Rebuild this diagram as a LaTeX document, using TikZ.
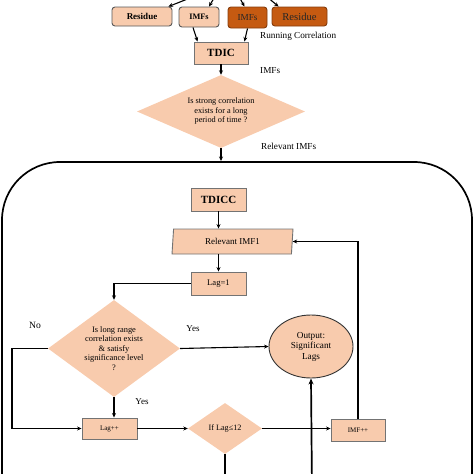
\documentclass[tikz,border=0pt]{standalone}
\usepackage{fontspec}
\setmainfont{Liberation Serif}
\usepackage{tikz}
\usetikzlibrary{positioning,calc,shapes.geometric,arrows.meta}
\definecolor{peach}{HTML}{F8CBAD}
\definecolor{rust}{HTML}{C55A11}
\definecolor{rustline}{HTML}{843C0C}
\tikzstyle{box}=[rectangle,draw=black!55,fill=peach,line width=0.9pt,inner sep=0pt,align=center]
\tikzstyle{rbox}=[box,rounded corners=3pt,draw=black!65]
\tikzstyle{dbox}=[rbox,fill=rust,draw=rustline,text=black!85]
\tikzstyle{cond}=[diamond,fill=peach,inner sep=0pt,align=center]
\tikzstyle{link}=[draw,line width=1.1pt,-{Stealth[length=4.5pt,width=4pt]}]
\tikzstyle{wire}=[draw,line width=1.1pt]
\tikzstyle{lbl}=[anchor=west,inner sep=0pt,font=\fontsize{9.2}{11}\selectfont]

\begin{document}
\begin{tikzpicture}[x=1pt,y=-1pt]
    \useasboundingbox (0,0) rectangle (474,474);
    \clip (0,0) rectangle (474,474);

    % Top row of decomposition outputs
    \node[rbox,minimum width=60pt,minimum height=19pt,font=\bfseries\fontsize{9}{10}\selectfont] (res1) at (142,16.5) {Residue};
    \node[rbox,minimum width=40pt,minimum height=20pt,font=\bfseries\fontsize{8.3}{10}\selectfont] (imf1) at (199,17) {IMFs};
    \node[dbox,minimum width=39pt,minimum height=21pt,font=\fontsize{9.2}{10}\selectfont] (imf2) at (247.5,17.5) {IMFs};
    \node[dbox,minimum width=55pt,minimum height=19pt,font=\fontsize{10.6}{12}\selectfont] (res2) at (299.5,16.5) {Residue};

    % arrows coming in from above the frame
    \coordinate (a1) at (190,-2);
    \coordinate (a2) at (217,-7);
    \coordinate (a3) at (237,-7);
    \coordinate (a4) at (266,-4);
    \path[link] (a1) -- ($(res1.north east)+(-4,0)$);
    \path[link] (a2) -- ($(imf1.north)+(10,0)$);
    \path[link] (a3) -- ($(imf2.north)+(-3,0)$);
    \path[link] (a4) -- ($(res2.north west)+(7,0)$);

    \node[box,minimum width=54pt,minimum height=22pt,font=\bfseries\fontsize{11}{12}\selectfont] (tdic) at (221,53) {TDIC};
    \path[link] ($(imf1.south)+(-6,0)$) -- ($(tdic.north west)+(4,0)$);
    \path[link] ($(imf2.south)+(0,0)$) -- ($(tdic.north east)+(-4,0)$);

    \node[cond,aspect=2.3,minimum width=168pt,minimum height=73pt,font=\fontsize{8.3}{9.5}\selectfont] (q1) at (221,111.5)
        {Is strong correlation\\exists for a long\\period of time ?};
    \path[link] (tdic) -- (q1);

    \node[lbl] (rc) at (260,36) {Running Correlation};
    \node[lbl] (im) at (260,71) {IMFs};
    \node[lbl] (ri) at (261,146) {Relevant IMFs};

    % TDICC frame
    \draw[line width=1.7pt,rounded corners=58pt] (2,162) rectangle (472,560);
    \coordinate (frtop) at (221,161);
    \path[link] (q1) -- (frtop);

    \node[box,minimum width=55pt,minimum height=23pt,font=\bfseries\fontsize{11}{12}\selectfont] (tdicc) at (218.5,199.5) {TDICC};
    \node[trapezium,trapezium left angle=76,trapezium right angle=104,trapezium stretches body,
          draw=black!55,fill=peach,line width=0.9pt,inner sep=0pt,minimum width=121pt,minimum height=25pt,
          font=\fontsize{9}{10}\selectfont] (imfin) at (232.5,241.5) {Relevant IMF1};
    \node[box,minimum width=55pt,minimum height=23pt,font=\fontsize{8.6}{10}\selectfont] (lag1) at (218.5,283.5) {Lag=1};
    \path[link] (tdicc) -- (tdicc.south |- imfin.north);
    \path[link] (lag1.north |- imfin.south) -- (lag1);

    \node[cond,aspect=1.36,minimum width=132pt,minimum height=97pt,font=\fontsize{8.4}{9.5}\selectfont] (q2) at (114,348.5)
        {Is long range\\correlation exists\\\& satisfy\\significance level\\?};
    \node[ellipse,draw=black!80,fill=peach,line width=0.9pt,inner sep=0pt,minimum width=84pt,minimum height=63pt,
          align=center,font=\fontsize{9.2}{10.5}\selectfont] (out) at (311,346.5) {Output:\\Significant\\Lags};
    \path[link] (lag1.west) -| (q2.north);
    \path[link] (q2.east) -- (out.west);

    \node[box,minimum width=55pt,minimum height=21pt,font=\fontsize{7}{8}\selectfont] (lagpp) at (109.5,428.5) {Lag++};
    \node[cond,aspect=1.45,minimum width=74pt,minimum height=51pt,font=\fontsize{8.2}{9}\selectfont] (q3) at (225,428.5) {If Lag≤12};
    \node[box,minimum width=54pt,minimum height=22pt,font=\fontsize{7}{8}\selectfont] (imfpp) at (358,430) {IMF++};

    \path[link] (q2.south) -- (q2.south |- lagpp.north);
    \path[link] (q2.west) -- (12,348.5) |- (lagpp.west);
    \path[link] (lagpp) -- (q3);
    \path[link] (q3.east) -- (q3.east -| imfpp.west);
    \path[link] (imfpp.north) |- (imfin.east);

    % leads running off the bottom
    \coordinate (b1) at (225,490);
    \coordinate (b2) at (312,490);
    \path[wire] (q3.south) -- (b1);
    \path[draw,line width=1.7pt,-{Stealth[length=6pt,width=5pt]}] (b2) -- (out.south);

    \node[font=\fontsize{9.6}{11}\selectfont] (no) at (35,325) {No};
    \node[font=\fontsize{9}{11}\selectfont] (yes1) at (193,329) {Yes};
    \node[font=\fontsize{9}{11}\selectfont] (yes2) at (142,402) {Yes};
\end{tikzpicture}
\end{document}
